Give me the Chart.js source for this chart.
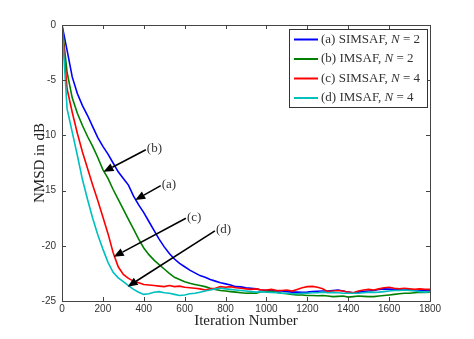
<!DOCTYPE html>
<html>
<head>
<meta charset="utf-8">
<script src="https://cdn.jsdelivr.net/npm/chart.js@4.4.1/dist/chart.umd.min.js"></script>
<style>
  html, body { margin: 0; padding: 0; background: #fff; }
  #wrap { width: 474px; height: 339px; }
</style>
</head>
<body>
<div id="wrap"><canvas id="nmsdChart" width="474" height="339"></canvas></div>
<script>
// Iteration grid shared by all four learning curves (step 25)
var iterations = [];
for (var k = 0; k <= 1800; k += 25) iterations.push(k);

// NMSD curves in dB
var simsafN2 = [0, -2.3, -4.7, -6.2, -7.3, -8.2, -9.2, -10.2, -11.0, -11.7, -12.5, -13.3, -13.9, -14.5, -15.5, -16.3,
  -17.0, -17.8, -18.6, -19.4, -20.1, -20.7, -21.2, -21.6, -21.9, -22.2, -22.45, -22.7, -22.85, -23.05, -23.2, -23.35,
  -23.45, -23.55, -23.7, -23.72, -23.8, -23.85, -23.9, -24.0, -24.05, -24.0, -24.08, -24.1, -24.15, -24.2, -24.18, -24.22,
  -24.2, -24.15, -24.12, -24.1, -24.1, -24.05, -24.0, -24.1, -24.2, -24.25, -24.2, -24.15, -24.1, -24.05, -23.95, -23.9,
  -23.92, -23.95, -23.95, -23.9, -24.0, -23.98, -24.02, -24.05, -24.05];
var imsafN2 = [0, -4.3, -6.6, -8.0, -9.1, -10.1, -11.0, -12.0, -13.1, -13.9, -14.9, -15.8, -16.7, -17.6, -18.5, -19.4,
  -20.2, -20.8, -21.3, -21.7, -22.1, -22.5, -22.85, -23.05, -23.25, -23.4, -23.5, -23.6, -23.7, -23.85, -23.95, -24.05,
  -24.1, -24.15, -24.2, -24.25, -24.3, -24.28, -24.3, -24.15, -24.12, -24.15, -24.2, -24.3, -24.35, -24.4, -24.45, -24.45,
  -24.5, -24.5, -24.52, -24.5, -24.55, -24.6, -24.58, -24.55, -24.65, -24.6, -24.55, -24.58, -24.6, -24.6, -24.55, -24.5,
  -24.45, -24.4, -24.35, -24.3, -24.3, -24.25, -24.2, -24.22, -24.2];
var simsafN4 = [0, -5.8, -7.9, -9.8, -11.5, -13.0, -14.5, -15.9, -17.4, -18.9, -20.6, -21.9, -22.6, -22.95, -23.2, -23.35,
  -23.5, -23.55, -23.6, -23.65, -23.7, -23.6, -23.7, -23.65, -23.75, -23.8, -23.85, -23.9, -24.0, -23.9, -23.85, -23.7,
  -23.75, -23.7, -23.8, -23.85, -23.9, -23.95, -23.9, -24.0, -24.0, -23.95, -24.05, -24.05, -24.0, -24.1, -23.95, -23.8,
  -23.7, -23.68, -23.75, -23.9, -24.15, -24.1, -24.05, -24.1, -24.2, -24.25, -24.1, -24.0, -23.95, -24.0, -23.9, -23.8,
  -23.75, -23.85, -23.9, -23.85, -23.9, -23.95, -23.9, -23.95, -23.95];
var imsafN4 = [0, -7.6, -9.7, -11.8, -14.0, -15.8, -17.5, -19.0, -20.3, -21.5, -22.4, -22.9, -23.25, -23.6, -23.95, -24.2,
  -24.4, -24.35, -24.2, -24.15, -24.25, -24.3, -24.4, -24.5, -24.45, -24.35, -24.3, -24.2, -24.1, -24.0, -23.9, -23.85,
  -23.9, -23.95, -24.0, -24.05, -24.1, -24.15, -24.2, -24.15, -24.2, -24.22, -24.25, -24.3, -24.3, -24.35, -24.35, -24.3,
  -24.3, -24.25, -24.25, -24.2, -24.25, -24.22, -24.25, -24.3, -24.3, -24.3, -24.3, -24.25, -24.2, -24.22, -24.2, -24.15,
  -24.1, -24.05, -24.05, -24.0, -24.05, -24.1, -24.15, -24.2, -24.15];

var curveNames = ['(a) SIMSAF, ', '(b) IMSAF, ', '(c) SIMSAF, ', '(d) IMSAF, '];
var curveN = [2, 2, 4, 4];
var curveColors = ['#0000ff', '#008000', '#ff0000', '#00bfbf'];

var xTicks = [0, 200, 400, 600, 800, 1000, 1200, 1400, 1600, 1800];
var yTicks = [0, -5, -10, -15, -20, -25];

// annotation arrows: [label, tail iteration, tail dB, head iteration, head dB]
var arrows = [
  ['(b)', 410, -11.3, 203, -13.3],
  ['(a)', 483, -14.55, 358, -15.85],
  ['(c)', 606, -17.5, 253, -21.0],
  ['(d)', 748, -18.65, 321, -23.7]
];

function toPoints(ys) {
  return ys.map(function (y, i) { return { x: iterations[i], y: y }; });
}

var series = [simsafN2, imsafN2, simsafN4, imsafN4];
var datasets = series.map(function (ys, i) {
  return {
    label: curveNames[i] + 'N = ' + curveN[i],
    data: toPoints(ys),
    borderColor: curveColors[i],
    borderWidth: 1.6,
    pointRadius: 0,
    tension: 0,
    fill: false,
    order: 3 - i
  };
});

var serif = '"Liberation Serif", "DejaVu Serif", serif';
var sans = '"Liberation Sans", Arial, sans-serif';

// box, inward ticks, legend and arrows drawn on top of the chart
var matlabAxes = {
  id: 'matlabAxes',
  afterDraw: function (chart) {
    var ctx = chart.ctx;
    var a = chart.chartArea;
    var xs = chart.scales.x, ys = chart.scales.y;
    ctx.save();
    ctx.strokeStyle = '#444';
    ctx.lineWidth = 1;
    ctx.strokeRect(Math.round(a.left) + 0.5, Math.round(a.top) + 0.5,
      Math.round(a.right - a.left), Math.round(a.bottom - a.top));
    ctx.beginPath();
    xTicks.forEach(function (t) {
      var px = Math.round(xs.getPixelForValue(t)) + 0.5;
      ctx.moveTo(px, a.bottom); ctx.lineTo(px, a.bottom - 4);
      ctx.moveTo(px, a.top); ctx.lineTo(px, a.top + 4);
    });
    yTicks.forEach(function (t) {
      var py = Math.round(ys.getPixelForValue(t)) + 0.5;
      ctx.moveTo(a.left, py); ctx.lineTo(a.left + 4, py);
      ctx.moveTo(a.right, py); ctx.lineTo(a.right - 4, py);
    });
    ctx.stroke();

    // arrows with their labels
    ctx.strokeStyle = '#000';
    ctx.fillStyle = '#000';
    ctx.lineWidth = 1.6;
    arrows.forEach(function (ar) {
      var x0 = xs.getPixelForValue(ar[1]), y0 = ys.getPixelForValue(ar[2]);
      var x1 = xs.getPixelForValue(ar[3]), y1 = ys.getPixelForValue(ar[4]);
      var ang = Math.atan2(y1 - y0, x1 - x0);
      var hl = 10, hw = 4.2;
      var bx = x1 - hl * Math.cos(ang), by = y1 - hl * Math.sin(ang);
      ctx.beginPath();
      ctx.moveTo(x0, y0); ctx.lineTo(bx, by);
      ctx.stroke();
      ctx.beginPath();
      ctx.moveTo(x1, y1);
      ctx.lineTo(bx + hw * Math.sin(ang), by - hw * Math.cos(ang));
      ctx.lineTo(bx - hw * Math.sin(ang), by + hw * Math.cos(ang));
      ctx.closePath();
      ctx.fill();
      ctx.save();
      ctx.fillStyle = '#333';
      ctx.font = '13px ' + serif;
      ctx.textAlign = 'left';
      ctx.textBaseline = 'middle';
      ctx.fillText(ar[0], x0 + 1, y0 - 1);
      ctx.restore();
    });

    // legend box
    var lx = 289, ly = 29, lw = 138, lh = 78;
    ctx.fillStyle = '#fff';
    ctx.fillRect(lx, ly, lw, lh);
    ctx.strokeStyle = '#333';
    ctx.lineWidth = 1;
    ctx.strokeRect(lx + 0.5, ly + 0.5, lw, lh);
    chart.data.datasets.forEach(function (ds, i) {
      var rowY = 39.5 + i * 19.5;
      ctx.strokeStyle = ds.borderColor;
      ctx.lineWidth = 2;
      ctx.beginPath();
      ctx.moveTo(294, rowY); ctx.lineTo(318, rowY);
      ctx.stroke();
      ctx.fillStyle = '#333';
      ctx.textBaseline = 'middle';
      ctx.textAlign = 'left';
      var tx = 321;
      ctx.font = '13px ' + serif;
      ctx.fillText(curveNames[i], tx, rowY);
      tx += ctx.measureText(curveNames[i]).width;
      ctx.font = 'italic 13px ' + serif;
      ctx.fillText('N', tx, rowY);
      tx += ctx.measureText('N').width;
      ctx.font = '13px ' + serif;
      ctx.fillText(' = ' + curveN[i], tx, rowY);
    });
    ctx.restore();
  }
};

var ctx = document.getElementById('nmsdChart').getContext('2d');
var nmsdChart = new Chart(ctx, {
  type: 'line',
  data: { datasets: datasets },
  options: {
    responsive: false,
    animation: false,
    layout: { padding: { top: 25, right: 44, bottom: 0, left: 0 } },
    plugins: {
      legend: { display: false },
      tooltip: { enabled: false }
    },
    scales: {
      x: {
        type: 'linear',
        min: 0,
        max: 1800,
        afterFit: function (scale) { scale.height = 38; },
        afterBuildTicks: function (scale) {
          scale.ticks = xTicks.map(function (v) { return { value: v }; });
        },
        grid: { display: false, drawTicks: false },
        border: { display: false },
        ticks: {
          color: '#333', font: { family: sans, size: 10 }, padding: 2, maxRotation: 0,
          callback: function (value) { return String(value); }
        },
        title: {
          display: true,
          text: 'Iteration Number',
          color: '#222',
          font: { family: serif, size: 15 },
          padding: { top: 0, bottom: 9 }
        }
      },
      y: {
        min: -25,
        max: 0,
        afterFit: function (scale) { scale.width = 62; },
        afterBuildTicks: function (scale) {
          scale.ticks = yTicks.map(function (v) { return { value: v }; });
        },
        grid: { display: false, drawTicks: false },
        border: { display: false },
        ticks: { color: '#333', font: { family: sans, size: 10 }, padding: 6 },
        title: {
          display: true,
          text: 'NMSD in dB',
          color: '#222',
          font: { family: serif, size: 15 },
          padding: { top: 31, bottom: 0 }
        }
      }
    }
  },
  plugins: [matlabAxes]
});
</script>
</body>
</html>
